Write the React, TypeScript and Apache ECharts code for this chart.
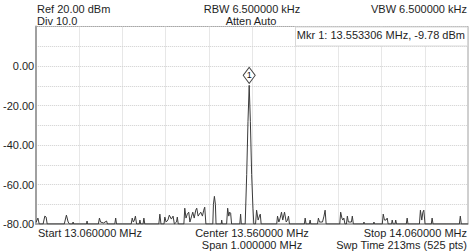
import React, { useEffect, useRef } from "react";
import * as echarts from "echarts";

const START_MHZ = 13.06;
const STOP_MHZ = 14.06;
const REF_DBM = 20;
const BOTTOM_DBM = -80;

const headerLeft = ["Ref 20.00 dBm", "Div 10.0"];
const headerCenter = ["RBW 6.500000 kHz", "Atten Auto"];
const headerRight = ["VBW 6.500000 kHz"];
const markerText = "Mkr 1: 13.553306 MHz, -9.78 dBm";
const footerLeft = ["Start 13.060000 MHz"];
const footerCenter = ["Center 13.560000 MHz", "Span 1.000000 MHz"];
const footerRight = ["Stop 14.060000 MHz", "Swp Time 213ms (525 pts)"];

const markerFreq = 13.553306;
const markerLevel = -9.78;

// trace points: [frequency MHz, level dBm]
const traceFreq: number[] = [
  13.06, 13.064, 13.067, 13.076, 13.08, 13.083, 13.0855,
  13.125, 13.13, 13.134, 13.137,
  13.144, 13.1455, 13.147,
  13.1765, 13.1778, 13.179,
  13.204, 13.2065, 13.209, 13.216, 13.223, 13.225,
  13.242, 13.2441, 13.246,
  13.28, 13.2824, 13.285, 13.2875, 13.2898, 13.2925, 13.2985, 13.3002, 13.302, 13.3075, 13.3094, 13.3115,
  13.344, 13.3464, 13.349, 13.356, 13.3579, 13.361, 13.365, 13.3683, 13.373, 13.377, 13.38,
  13.385, 13.3868, 13.389,
  13.402, 13.4041, 13.407, 13.41, 13.4133, 13.416, 13.42, 13.4226, 13.426, 13.4295, 13.4318, 13.435, 13.438, 13.4411, 13.445, 13.448, 13.4503, 13.453,
  13.469, 13.4705, 13.4727, 13.475, 13.4765,
  13.4885, 13.4896, 13.491,
  13.501, 13.5034, 13.506, 13.508, 13.5103, 13.5125,
  13.5315, 13.5334, 13.535,
  13.544, 13.5475, 13.5505, 13.5533, 13.556, 13.559, 13.562, 13.564,
  13.568, 13.5704, 13.574, 13.577, 13.5789, 13.581,
  13.617, 13.6189, 13.622, 13.625, 13.6281, 13.631, 13.6351, 13.639, 13.642, 13.6443, 13.6465,
  13.681, 13.6829, 13.685, 13.6925, 13.6944, 13.696,
  13.7115, 13.7136, 13.716, 13.723, 13.7265, 13.7291, 13.7315,
  13.763, 13.7651, 13.768, 13.77, 13.7725, 13.775, 13.7785, 13.7806, 13.783, 13.79, 13.7921, 13.7945,
  13.818, 13.8191, 13.82,
  13.841, 13.8422, 13.8435,
  13.8615, 13.8637, 13.8665, 13.87, 13.8729, 13.875, 13.883, 13.8845, 13.8865, 13.891, 13.8926, 13.8945,
  13.917, 13.9191, 13.921,
  13.9475, 13.9498, 13.953, 13.9555, 13.9577, 13.9605,
  13.975, 13.9769, 13.979,
  14.04, 14.0422, 14.0445, 14.06,
];

const traceLevel: number[] = [
  -79, -77, -80, -80, -76, -76.5, -80,
  -80, -75.5, -79, -80,
  -80, -79, -80,
  -80, -78.5, -80,
  -80, -77, -79, -79.5, -78.5, -80,
  -80, -77, -80,
  -80, -77, -79, -78, -76, -80, -80, -78, -80, -80, -77, -80,
  -80, -75, -80, -80, -76.5, -79, -78, -75.5, -77.5, -76, -80,
  -79, -76.5, -80,
  -80, -72, -77, -75, -74, -79, -76, -74, -77, -73, -72, -76, -75, -74, -76, -73, -71.5, -80,
  -80, -70, -66, -70, -80,
  -80, -78, -80,
  -80, -72, -76, -74, -74.5, -80,
  -80, -75, -80,
  -80, -55, -28, -9.78, -28, -55, -72, -80,
  -80, -73, -78, -76, -75, -80,
  -80, -76, -79, -77, -74, -78, -74, -79, -78, -76, -80,
  -80, -77, -80, -80, -78, -80,
  -80, -77, -79, -79, -76, -73, -80,
  -80, -74, -77, -78, -77, -80, -80, -76, -79, -79, -76, -80,
  -80, -79, -80,
  -80, -79, -80,
  -80, -75, -78, -78, -77, -80, -80, -78, -80, -80, -78, -80,
  -80, -77, -80,
  -80, -73, -78, -74, -73, -80,
  -80, -77, -80,
  -80, -76, -80, -80,
];

const FONT = '"Liberation Sans", Arial, sans-serif';
const TEXT_COLOR = "#1e1e1e";

export default function App() {
  const ref = useRef<HTMLDivElement>(null);

  useEffect(() => {
    if (!ref.current) return;
    const chart = echarts.init(ref.current, undefined, { renderer: "svg" });

    const data = traceFreq.map((f, i) => [f - START_MHZ, traceLevel[i]]);

    const txt = (
      x: number,
      y: number,
      text: string,
      align: "left" | "center" | "right"
    ) => ({
      type: "text",
      x,
      y,
      z: 10,
      style: {
        text,
        fill: TEXT_COLOR,
        font: `11px ${FONT}`,
        textAlign: align,
        textVerticalAlign: "middle",
      },
    });

    const option: any = {
      animation: false,
      backgroundColor: "#ffffff",
      grid: {
        left: 35,
        right: 6,
        top: 26.5,
        bottom: 28,
        show: true,
        borderColor: "#a0a0a0",
        borderWidth: 1,
        backgroundColor: "transparent",
      },
      xAxis: {
        type: "value",
        min: 0,
        max: STOP_MHZ - START_MHZ,
        interval: 0.1,
        axisLabel: { show: false },
        axisTick: { show: false },
        axisLine: {
          show: true,
          onZero: false,
          lineStyle: { color: "#a0a0a0", width: 1.5 },
        },
        splitLine: {
          show: true,
          lineStyle: { color: "#cfcfcf", type: "dotted", width: 1 },
        },
      },
      yAxis: {
        type: "value",
        min: BOTTOM_DBM,
        max: REF_DBM,
        interval: 10,
        axisTick: { show: false },
        axisLine: {
          show: true,
          onZero: false,
          lineStyle: { color: "#a0a0a0", width: 2 },
        },
        axisLabel: {
          margin: 2,
          color: TEXT_COLOR,
          fontSize: 11,
          fontFamily: FONT,
          formatter: (v: number) =>
            v % 20 === 0 && v < REF_DBM ? v.toFixed(2) : "",
        },
        splitLine: {
          show: true,
          lineStyle: { color: "#cfcfcf", type: "dotted", width: 1 },
        },
      },
      series: [
        {
          type: "line",
          data,
          symbol: "none",
          clip: true,
          lineStyle: { color: "#3a3a3a", width: 1 },
          markPoint: {
            symbol: "diamond",
            symbolSize: [12, 16],
            symbolOffset: [0, -10],
            itemStyle: { color: "#ffffff", borderColor: "#444", borderWidth: 1 },
            label: {
              show: true,
              position: "inside",
              formatter: "1",
              color: "#111",
              fontSize: 9,
              fontFamily: FONT,
            },
            data: [{ coord: [markerFreq - START_MHZ, markerLevel], value: 1 }],
          },
        },
      ],
      graphic: [
        {
          type: "rect",
          z: 1,
          shape: { x: 295.5, y: 27, width: 172, height: 19 },
          style: { fill: "#ffffff", stroke: "#d8d8d8", lineWidth: 1 },
        },
        txt(37, 9, headerLeft[0], "left"),
        txt(37, 21, headerLeft[1], "left"),
        txt(252, 9, headerCenter[0], "center"),
        txt(251, 21, headerCenter[1], "center"),
        txt(467, 9, headerRight[0], "right"),
        txt(465, 35, markerText, "right"),
        txt(38, 233, footerLeft[0], "left"),
        txt(252, 233, footerCenter[0], "center"),
        txt(252, 245, footerCenter[1], "center"),
        txt(467, 233, footerRight[0], "right"),
        txt(467, 245, footerRight[1], "right"),
      ],
    };

    chart.setOption(option);
    return () => chart.dispose();
  }, []);

  return (
    <div
      ref={ref}
      style={{ position: "fixed", left: 0, top: 0, width: 474, height: 252 }}
    />
  );
}
